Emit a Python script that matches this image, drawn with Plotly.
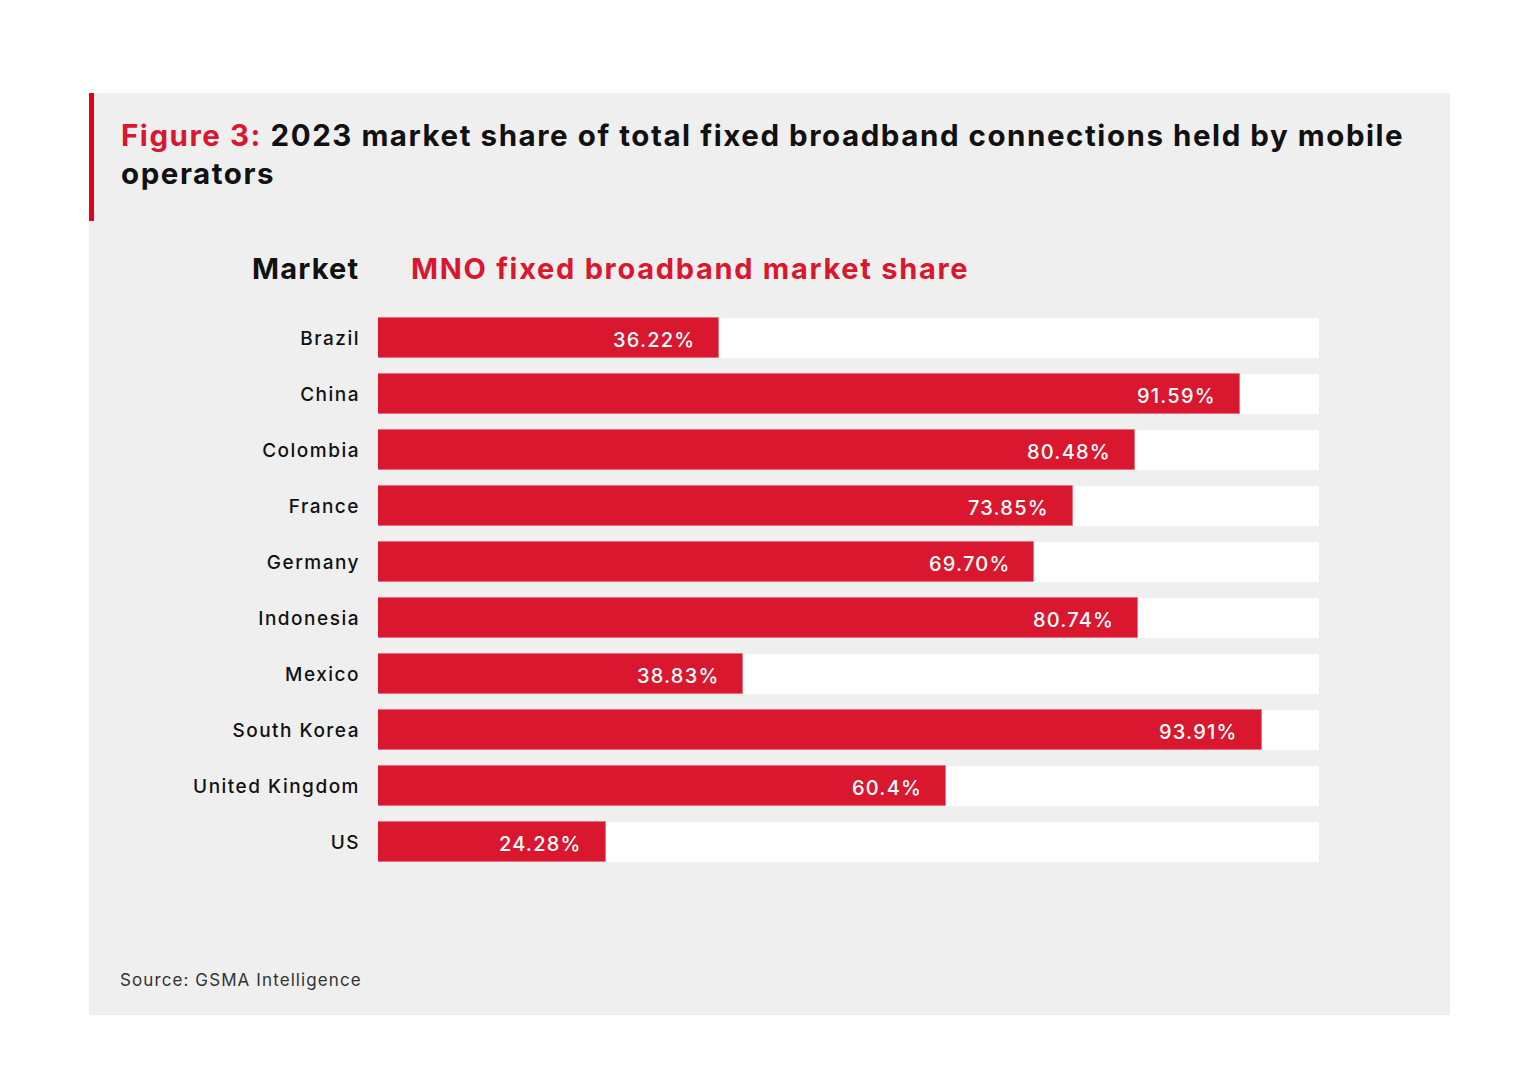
import plotly.graph_objects as go

markets = ["Brazil", "China", "Colombia", "France", "Germany", "Indonesia",
           "Mexico", "South Korea", "United Kingdom", "US"]
shares = [36.22, 91.59, 80.48, 73.85, 69.70, 80.74, 38.83, 93.91, 60.4, 24.28]
share_labels = ["36.22%", "91.59%", "80.48%", "73.85%", "69.70%", "80.74%",
                "38.83%", "93.91%", "60.4%", "24.28%"]
track_max = 100

W, H = 1536, 1086
RED = "#D9172F"
FONT = "Inter"

def px_x(p):
    return p / W

def px_y(p):
    return 1 - p / H

def spaced(s, sp):
    return "<span style='letter-spacing:%spx'>%s</span>" % (sp, s)

fig = go.Figure()
fig.add_trace(go.Bar(
    y=markets, x=[track_max] * len(markets), orientation="h",
    marker=dict(color="white", line=dict(width=0)), width=0.73,
    hoverinfo="skip", showlegend=False,
))
fig.add_trace(go.Bar(
    y=markets, x=shares, orientation="h",
    marker=dict(color=RED, line=dict(width=1, color="#E8707F")), width=0.73,
    showlegend=False,
))

annotations = []
for m, v, lab in zip(markets, shares, share_labels):
    annotations.append(dict(
        x=v, y=m, xref="x", yref="y", text=spaced(lab, 1.2), showarrow=False,
        xanchor="right", yanchor="middle", xshift=-22, yshift=-2,
        font=dict(family=FONT, size=20, color="white", weight=500),
    ))

line1 = ("<span style='color:%s'>Figure 3:</span> 2023 market share of total "
         "fixed broadband connections held by mobile" % RED)

annotations += [
    dict(x=px_x(119), y=px_y(115), xref="paper", yref="paper",
         xanchor="left", yanchor="top", align="left", showarrow=False,
         text=spaced(line1, 1.55) + "<br>" + spaced("operators", 1.55),
         font=dict(family=FONT, size=29.5, color="#111111", weight=700)),
    dict(x=px_x(361), y=px_y(268), xref="paper", yref="paper",
         xanchor="right", yanchor="middle", showarrow=False,
         text=spaced("Market", 1.2),
         font=dict(family=FONT, size=29, color="#111111", weight=700)),
    dict(x=px_x(409), y=px_y(268), xref="paper", yref="paper",
         xanchor="left", yanchor="middle", showarrow=False,
         text=spaced("MNO fixed broadband market share", 1.7),
         font=dict(family=FONT, size=29, color=RED, weight=700)),
    dict(x=px_x(118), y=px_y(980), xref="paper", yref="paper",
         xanchor="left", yanchor="middle", showarrow=False,
         text=spaced("Source: GSMA Intelligence", 1.1),
         font=dict(family=FONT, size=17, color="#333333")),
]

shapes = [
    dict(type="rect", xref="paper", yref="paper", x0=px_x(89), x1=px_x(1450),
         y0=px_y(1015), y1=px_y(93), fillcolor="#EFEFEF", line=dict(width=0),
         layer="below"),
    dict(type="rect", xref="paper", yref="paper", x0=px_x(89), x1=px_x(94),
         y0=px_y(221), y1=px_y(93), fillcolor="#E2001A", line=dict(width=0),
         layer="below"),
]

fig.update_layout(
    width=W, height=H, barmode="overlay", bargap=0,
    margin=dict(l=0, r=0, t=0, b=0),
    paper_bgcolor="white", plot_bgcolor="rgba(0,0,0,0)",
    annotations=annotations, shapes=shapes,
    xaxis=dict(range=[0, track_max], domain=[378 / W, 1319 / W],
               showgrid=False, zeroline=False, showticklabels=False,
               fixedrange=True),
    yaxis=dict(domain=[px_y(870), px_y(310)], autorange="reversed",
               tickmode="array", tickvals=markets,
               ticktext=[spaced(m, 1.5) for m in markets],
               showgrid=False, zeroline=False, ticks="", ticklabelstandoff=17,
               tickfont=dict(family=FONT, size=19, color="#111111", weight=500),
               fixedrange=True),
    font=dict(family=FONT),
)

fig.write_html("out.html")
